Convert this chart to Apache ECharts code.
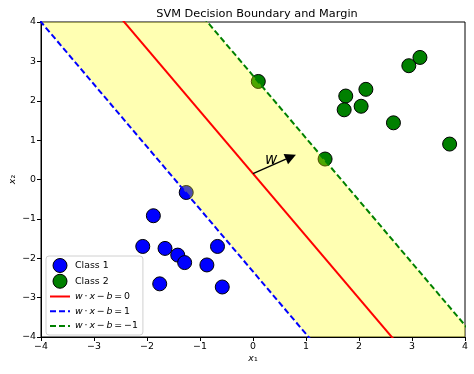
<!DOCTYPE html>
<html><head><meta charset="utf-8">
<script src="https://cdn.jsdelivr.net/npm/echarts@6/dist/echarts.min.js"></script>
<style>html,body{margin:0;padding:0;background:#fff}#c{width:474px;height:374px}</style>
</head><body><div id="c"></div>
<script>
// ---- data ----
const class1X = [-1.88, -2.08, -1.66, -1.42, -1.29, -0.67, -0.87, -1.76, -0.58, -1.26];
const class1Y = [-0.92, -1.70, -1.75, -1.92, -2.11, -1.70, -2.17, -2.65, -2.73, -0.33];
const class2X = [0.10, 1.36, 1.75, 2.13, 1.72, 2.04, 2.94, 3.15, 2.65, 3.71];
const class2Y = [2.49, 0.52, 2.12, 2.29, 1.77, 1.86, 2.89, 3.10, 1.44, 0.90];
const weights = [-0.637, -0.402];
const bias = -0.06;
const levels = [0, 1, -1];
const lineNames = ['w·x−b=0', 'w·x−b=1', 'w·x−b=−1'];
const arrowFrom = [0, 0.15];
const arrowTo = [0.81, 0.63];
const wLabelPos = [0.34, 0.48];
const axisTicks = [-4, -3, -2, -1, 0, 1, 2, 3, 4];
const lineExtent = [-6, 6];

// ---- helpers ----
function lineY(c, x) { return (c + bias - weights[0] * x) / weights[1]; }
function pairs(xs, ys) { return xs.map((x, i) => [x, ys[i]]); }
function fmt(v) { return String(v).replace('-', '\u2212'); }

const FONT = 'DejaVu Sans';
const FS = 9.4;
const lineColors = ['#ff0000', '#0000ff', '#008000'];
const lineTypes = ['solid', [6, 3], [6, 3]];

const lineSeries = levels.map((c, i) => ({
  name: lineNames[i],
  type: 'line',
  symbol: 'none',
  z: 4,
  clip: true,
  data: lineExtent.map(x => [x, lineY(c, x)]),
  lineStyle: { color: lineColors[i], width: 2, type: lineTypes[i] },
  itemStyle: { color: lineColors[i] },
  animation: false
}));

const legendData = [
  { name: 'Class 1', itemStyle: { borderWidth: 1, borderColor: '#000' } },
  { name: 'Class 2', itemStyle: { borderWidth: 1, borderColor: '#000' } }
].concat(lineNames.map(n => ({
  name: n,
  itemStyle: { color: 'rgba(0,0,0,0)', borderWidth: 0, borderColor: 'rgba(0,0,0,0)' }
})));

const chart = echarts.init(document.getElementById('c'), null, { renderer: 'canvas' });
const thin = '\u2009';
const axisNameStyle = { rich: { i: { fontFamily: FONT, fontSize: FS, fontStyle: 'italic', color: '#000' }, n: { fontFamily: FONT, fontSize: FS, color: '#000' } } };
function axisCommon() {
  return {
    type: 'value', min: axisTicks[0], max: axisTicks[axisTicks.length - 1], interval: 1,
    splitLine: { show: false },
    axisLine: { show: true, onZero: false, lineStyle: { color: '#000', width: 1 } },
    axisTick: { show: true, length: 4, lineStyle: { color: '#000' } },
    axisLabel: { fontFamily: FONT, fontSize: FS, color: '#000', margin: 5, formatter: fmt },
    nameTextStyle: axisNameStyle,
    nameLocation: 'middle',
    nameMoveOverlap: false
  };
}
chart.setOption({
  animation: false,
  backgroundColor: '#fff',
  title: {
    text: 'SVM Decision Boundary and Margin',
    left: 252, top: 4, textAlign: 'center',
    textStyle: { fontFamily: FONT, fontSize: 11.3, fontWeight: 'normal', color: '#000' }
  },
  grid: { left: 41, right: 9, top: 22, bottom: 37, outerBoundsMode: 'none', containLabel: false, show: true, borderColor: '#000', borderWidth: 1, backgroundColor: 'transparent' },
  legend: {
    orient: 'vertical', left: 46, top: 256,
    data: legendData,
    itemWidth: 20, itemHeight: 14, itemGap: 0.75,
    padding: [2, 5, 2, 3],
    backgroundColor: 'rgba(255,255,255,0.8)',
    borderColor: '#d0d0d0', borderWidth: 1, borderRadius: 3,
    textStyle: {
      fontFamily: FONT, fontSize: FS, color: '#000', lineHeight: 14,
      rich: {
        i: { fontFamily: FONT, fontSize: FS, fontStyle: 'italic', color: '#000', lineHeight: 14 },
        n: { fontFamily: FONT, fontSize: FS, color: '#000', lineHeight: 14 }
      }
    },
    formatter: function (name) {
      if (name.charAt(0) !== 'w') return name;
      const rhs = name.split('=')[1];
      return '{i|w}{n|' + thin + '·' + thin + '}{i|x}{n|' + thin + '−' + thin + '}{i|b}{n|' + thin + '=' + thin + rhs + '}';
    }
  },
  xAxis: Object.assign(axisCommon(), { name: '{i|x}{n|₁}', nameGap: 17 }),
  yAxis: Object.assign(axisCommon(), { name: '{i|x}{n|₂}', nameGap: 24, nameRotate: 90 }),
  series: [
    {
      name: 'Class 1', type: 'scatter', z: 2, symbolSize: 14,
      data: pairs(class1X, class1Y),
      itemStyle: { color: '#0000ff', borderColor: '#000', borderWidth: 1, opacity: 1 }
    },
    {
      name: 'Class 2', type: 'scatter', z: 2, symbolSize: 14,
      data: pairs(class2X, class2Y),
      itemStyle: { color: '#008000', borderColor: '#000', borderWidth: 1, opacity: 1 }
    },
    {
      type: 'custom', z: 3, clip: true, silent: true,
      data: [[0, 0]],
      renderItem: function (params, api) {
        const pts = [
          [lineExtent[0], lineY(1, lineExtent[0])],
          [lineExtent[1], lineY(1, lineExtent[1])],
          [lineExtent[1], lineY(-1, lineExtent[1])],
          [lineExtent[0], lineY(-1, lineExtent[0])]
        ].map(p => api.coord(p));
        return { type: 'polygon', shape: { points: pts }, style: { fill: 'rgba(255,255,0,0.3)' } };
      }
    }
  ].concat(lineSeries).concat([
    {
      type: 'custom', z: 5, silent: true,
      data: [[0, 0]],
      renderItem: function (params, api) {
        const p0 = api.coord(arrowFrom), p1 = api.coord(arrowTo);
        const dx = p1[0] - p0[0], dy = p1[1] - p0[1];
        const len = Math.sqrt(dx * dx + dy * dy);
        const ux = dx / len, uy = dy / len;
        const hl = 11, hw = 5.5;
        const bx = p1[0] - ux * hl, by = p1[1] - uy * hl;
        const lp = api.coord(wLabelPos);
        return {
          type: 'group',
          children: [
            { type: 'line', shape: { x1: p0[0], y1: p0[1], x2: bx, y2: by }, style: { stroke: '#000', lineWidth: 1.3 } },
            { type: 'polygon', shape: { points: [[p1[0], p1[1]], [bx - uy * hw, by + ux * hw], [bx + uy * hw, by - ux * hw]] }, style: { fill: '#000' } },
            { type: 'text', x: lp[0], y: lp[1], style: { text: 'w', fontFamily: FONT, fontStyle: 'italic', fontSize: 15, fill: '#000', align: 'center', verticalAlign: 'middle' } }
          ]
        };
      }
    }
  ])
});
</script></body></html>
